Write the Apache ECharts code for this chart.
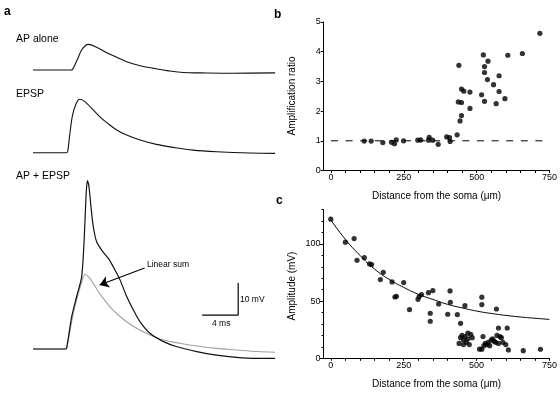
<!DOCTYPE html>
<html><head><meta charset="utf-8">
<script src="https://cdn.jsdelivr.net/npm/echarts@6/dist/echarts.min.js"></script>
<style>html,body{margin:0;padding:0;background:#fff}#c{width:560px;height:398px}</style>
</head><body><div id="c"></div>
<script>
// ---- Panel a traces (time in ms, voltage in mV relative to baseline) ----
const apAloneT = [0, 2.5, 4.2, 4.4, 4.9, 5.4, 5.9, 6.15, 7.07, 8.2, 9.3, 10.4, 11.9, 13.4, 14.9, 16.7, 18.6, 22.3, 26.9];
const apAloneV = [0, 0, 0, 0.2, 3.1, 6.25, 7.8, 8.0, 7.1, 5.4, 4.0, 2.6, 1.35, 0.52, -0.2, -0.8, -0.9, -1.0, -0.9];

const epspT = [0, 2.0, 3.7, 3.85, 4.1, 4.4, 4.8, 5.2, 5.8, 6.5, 7.4, 8.2, 9.3, 10.4, 11.9, 13.7, 15.6, 17.8, 20.4, 24.1, 26.9];
const epspV = [0, 0, 0, 0.3, 6.0, 11.8, 15.4, 16.7, 15.9, 13.9, 11.3, 9.4, 7.1, 5.5, 3.96, 2.6, 1.66, 0.8, 0.3, -0.1, -0.2];

const sumT = [0, 2.0, 3.6, 3.74, 4.3, 4.85, 5.41, 5.7, 5.89, 6.04, 6.22, 6.44, 6.7, 7.07, 7.63, 8.37, 9.11, 9.67, 10.41, 11.15, 11.9, 13.0, 14.5, 16.0, 18.2, 20.4, 22.6, 24.9, 26.9];
const sumV = [0, 0, 0, 0.3, 10.1, 16.4, 22.6, 35.1, 47.6, 52.6, 50.7, 44.5, 38.2, 33.5, 30.9, 28.3, 24.7, 21.6, 16.4, 12.2, 8.5, 4.9, 2.3, 0.7, -0.8, -1.9, -2.6, -2.9, -2.9];

const linT = [0, 2.0, 3.6, 3.74, 4.48, 5.04, 5.41, 5.78, 6.15, 6.7, 7.26, 7.81, 8.56, 9.3, 10.4, 11.5, 13.0, 14.5, 16.3, 18.2, 20.4, 22.6, 24.9, 26.9];
const linV = [0, 0, 0, 0.3, 11.1, 17.3, 20.9, 23.3, 22.6, 20.5, 17.9, 15.8, 13.2, 11.1, 8.5, 6.5, 4.4, 2.8, 1.8, 0.96, 0.2, -0.3, -0.8, -1.0];

// scale bar: 4 ms, 10 mV
const scaleBarT = [18.8, 22.8, 22.8];
const scaleBarV = [10.6, 10.6, 20.6];
const arrowFrom = [12.4, 25.3];
const arrowTo = [7.4, 20.0];

// ---- Panel b: amplification ratio vs distance ----
const bDist = [114, 138, 178, 208, 218, 224, 249, 298, 308, 337, 335, 349, 368, 397, 407, 409, 433, 439, 437, 448, 448, 456, 448, 443, 477, 477, 517, 523, 527, 527, 527, 539, 537, 558, 577, 577, 567, 597, 607, 657, 717];
const bRatio = [0.99, 0.99, 0.94, 0.95, 0.90, 1.03, 1.0, 1.02, 1.03, 1.12, 1.02, 1.02, 0.88, 1.13, 1.11, 0.98, 1.20, 3.54, 2.31, 2.29, 2.74, 2.67, 1.85, 1.67, 2.64, 2.09, 2.55, 3.89, 3.50, 3.30, 2.33, 3.68, 3.06, 2.89, 3.19, 2.66, 2.25, 2.42, 3.88, 3.94, 4.62];
const bRefLine = [[0, 1], [750, 1]];

// ---- Panel c: amplitude vs distance ----
const cDist = [0, 50, 80, 90, 115, 133, 140, 180, 170, 210, 220, 225, 250, 270, 299, 303, 311, 335, 350, 341, 341, 370, 401, 409, 410, 434, 445, 460, 518, 518, 568, 575, 605, 609, 660, 719,
  440, 445, 450, 455, 460, 465, 470, 475, 480, 485, 470, 455,
  510, 518, 522, 525, 530, 535, 540, 545, 550, 555, 560, 565, 570, 575, 580, 585, 590, 600];
const cAmp = [121.6, 101.5, 104.7, 85.7, 88, 82.5, 82, 75.2, 68.8, 66.8, 53.6, 54.2, 66.2, 42.6, 51.6, 54, 55.7, 57.4, 59.2, 39.4, 32.4, 47.5, 38.5, 58.9, 49, 38.2, 30.6, 46, 53.4, 47, 43.1, 26.5, 26.5, 7.3, 6.7, 7.9,
  13, 18, 20, 16, 19, 14, 17, 12, 21, 18, 22, 12,
  8, 8, 19, 11, 13, 12, 14, 11, 16, 17, 15, 14, 20, 13, 19, 18, 14, 12];
const fitDist = [0, 50, 100, 150, 200, 250, 300, 350, 400, 450, 500, 550, 600, 650, 700, 750];
const fitAmp = [121, 104, 90, 78, 69, 62, 56, 51.5, 47.2, 44.1, 41.3, 39.2, 37.5, 36.1, 35.0, 34.0];

const xTicks = [0, 50, 100, 150, 200, 250, 300, 350, 400, 450, 500, 550, 600, 650, 700, 750];
const xLabels = [0, 250, 500, 750];
const cMinorTicks = [0, 10, 20, 30, 40, 50, 60, 70, 80, 90, 100, 110, 120, 130];
const cMajorTicks = [0, 50, 100];

const zip = (a, b) => a.map((v, i) => [v, b[i]]);
const FONT = 'Liberation Sans, Arial, sans-serif';

const chart = echarts.init(document.getElementById('c'), null, {renderer: 'canvas'});

const hiddenX = (gi) => ({type: 'value', gridIndex: gi, min: 0, max: 27, show: false});
const hiddenY = (gi, mn, mx) => ({type: 'value', gridIndex: gi, min: mn, max: mx, show: false});

const axisBase = {
  axisLine: {show: true, onZero: false, lineStyle: {color: '#000', width: 1}},
  splitLine: {show: false},
  nameTextStyle: {fontFamily: FONT}
};

const xAxisSci = (gi) => Object.assign({}, axisBase, {
  type: 'value', gridIndex: gi, min: -25, max: 750, position: 'bottom',
  axisTick: {show: true, length: 2.5, lineStyle: {color: '#000'}, customValues: xTicks},
  axisLabel: {show: true, customValues: xLabels, fontSize: 9, color: '#000', margin: 3, fontFamily: FONT},
  name: 'Distance from the soma (μm)', nameLocation: 'middle', nameGap: 21,
  nameTextStyle: {fontSize: 10, color: '#000', fontFamily: FONT}
});

const traceLine = (xi, data, color, width, sm) => ({
  type: 'line', xAxisIndex: xi, yAxisIndex: xi, data: data, smooth: sm,
  symbol: 'none', lineStyle: {color: color, width: width}
});

const option = {
  animation: false,
  backgroundColor: '#fff',
  grid: [
    {left: 33, top: 38, width: 243, height: 38.4},
    {left: 33, top: 95.1, width: 243, height: 64},
    {left: 33, top: 173, width: 243, height: 192},
    {left: 323.7, top: 22, width: 228, height: 148.5},
    {left: 323.5, top: 209.6, width: 228.5, height: 148.7}
  ],
  xAxis: [
    hiddenX(0), hiddenX(1), hiddenX(2),
    xAxisSci(3), xAxisSci(4)
  ],
  yAxis: [
    hiddenY(0, -2, 10), hiddenY(1, -2, 18), hiddenY(2, -5, 55),
    Object.assign({}, axisBase, {
      type: 'value', gridIndex: 3, min: 0, max: 5, interval: 1, position: 'left',
      axisTick: {show: true, length: 3, lineStyle: {color: '#000'}},
      axisLabel: {fontSize: 9, color: '#000', margin: 3, fontFamily: FONT}
    }),
    Object.assign({}, axisBase, {
      type: 'value', gridIndex: 4, min: 0, max: 130, position: 'left',
      axisTick: {show: true, length: 2, lineStyle: {color: '#000'}, customValues: cMinorTicks},
      axisLabel: {show: false}
    }),
    Object.assign({}, axisBase, {
      type: 'value', gridIndex: 4, min: 0, max: 130, position: 'left', offset: 0,
      axisLine: {show: false, onZero: false},
      axisTick: {show: true, length: 3.5, lineStyle: {color: '#000'}, customValues: cMajorTicks},
      axisLabel: {customValues: cMajorTicks, fontSize: 9, color: '#000', margin: 3, fontFamily: FONT}
    })
  ],
  series: [
    traceLine(0, zip(apAloneT, apAloneV), '#111', 1.1, 0.35),
    traceLine(1, zip(epspT, epspV), '#111', 1.1, 0.35),
    traceLine(2, zip(linT, linV), '#a0a0a0', 1.1, 0.35),
    Object.assign(traceLine(2, zip(sumT, sumV), '#111', 1.2, 0.25), {
      markLine: {
        silent: true, symbol: ['none', 'arrow'], symbolSize: 9,
        lineStyle: {color: '#000', width: 1.1, type: 'solid'}, label: {show: false},
        data: [[{coord: arrowFrom}, {coord: arrowTo}]]
      }
    }),
    {type: 'line', xAxisIndex: 2, yAxisIndex: 2, data: zip(scaleBarT, scaleBarV), symbol: 'none',
      lineStyle: {color: '#000', width: 1.2}},
    // panel b
    {type: 'line', xAxisIndex: 3, yAxisIndex: 3, data: bRefLine, symbol: 'none',
      lineStyle: {color: '#000', width: 1, type: [7, 7.6]}},
    {type: 'scatter', xAxisIndex: 3, yAxisIndex: 3, data: zip(bDist, bRatio), symbolSize: 5.2,
      itemStyle: {color: '#000'}},
    // panel c
    {type: 'line', xAxisIndex: 4, yAxisIndex: 4, data: zip(fitDist, fitAmp), smooth: true, symbol: 'none',
      lineStyle: {color: '#000', width: 1}},
    {type: 'scatter', xAxisIndex: 4, yAxisIndex: 4, data: zip(cDist, cAmp), symbolSize: 5.2,
      itemStyle: {color: '#000'}}
  ],
  graphic: [
    {type: 'text', left: 4, top: 6, style: {text: 'a', font: 'bold 12px ' + FONT, fill: '#000'}},
    {type: 'text', left: 274, top: 9, style: {text: 'b', font: 'bold 12px ' + FONT, fill: '#000'}},
    {type: 'text', left: 276, top: 195, style: {text: 'c', font: 'bold 12px ' + FONT, fill: '#000'}},
    {type: 'text', left: 16, top: 34, style: {text: 'AP alone', font: '10.5px ' + FONT, fill: '#000'}},
    {type: 'text', left: 16, top: 89, style: {text: 'EPSP', font: '10.5px ' + FONT, fill: '#000'}},
    {type: 'text', left: 16, top: 171, style: {text: 'AP + EPSP', font: '10.5px ' + FONT, fill: '#000'}},
    {type: 'text', left: 147, top: 260, style: {text: 'Linear sum', font: '8.5px ' + FONT, fill: '#000'}},
    {type: 'text', left: 240, top: 295, style: {text: '10 mV', font: '8.5px ' + FONT, fill: '#000'}},
    {type: 'text', left: 212, top: 319, style: {text: '4 ms', font: '8.5px ' + FONT, fill: '#000'}},
    {type: 'text', x: 292, y: 96, rotation: Math.PI / 2,
      style: {text: 'Amplification ratio', font: '10px ' + FONT, fill: '#000', align: 'center', verticalAlign: 'middle'}},
    {type: 'text', x: 292, y: 286, rotation: Math.PI / 2,
      style: {text: 'Amplitude (mV)', font: '10px ' + FONT, fill: '#000', align: 'center', verticalAlign: 'middle'}}
  ]
};
chart.setOption(option);
</script>
</body></html>
